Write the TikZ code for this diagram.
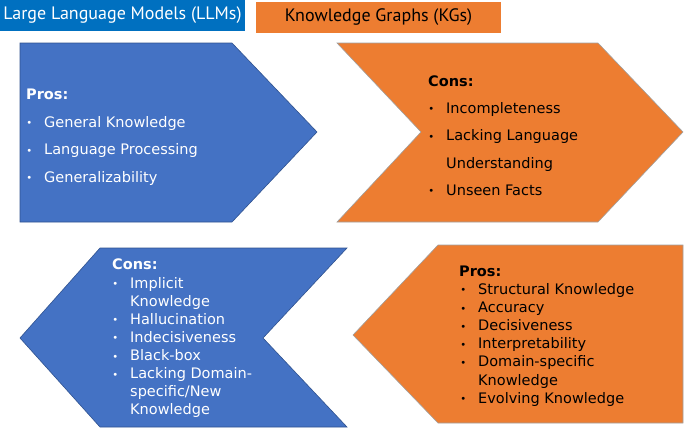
\documentclass[tikz,border=0pt]{standalone}
\usepackage{fontspec}
\setmainfont{DejaVu Sans}
\newfontfamily\titlefont{PT Sans}
\definecolor{tblue}{HTML}{0070C0}
\definecolor{sblue}{HTML}{4472C4}
\definecolor{sblueline}{HTML}{2F528F}
\definecolor{sorange}{HTML}{ED7D31}
\definecolor{soline}{HTML}{A0A0A0}
\newcommand{\bul}{\llap{\raisebox{0.5pt}{\fontsize{10}{10}\selectfont •}\hspace{12pt}}}
\begin{document}
\begin{tikzpicture}[x=1pt,y=-1pt,
  titlebox/.style={inner sep=0pt, minimum width=245pt, minimum height=31pt, font=\titlefont\fontsize{18}{20}\selectfont},
  blueshape/.style={fill=sblue, draw=sblueline, line width=0.6pt, line join=miter},
  orangeshape/.style={fill=sorange, draw=soline, line width=0.6pt, line join=miter},
  txt/.style={anchor=base west, inner sep=0pt, font=\fontsize{14.5}{16}\selectfont},
  wtxt/.style={txt, text=white},
  btxt/.style={txt, text=black},
  hd/.style={font=\bfseries\fontsize{14.5}{16}\selectfont}
]
\useasboundingbox (0,0) rectangle (685,429);

% titles
\node[titlebox, fill=tblue, text=white] (t1) at (122.5,15.5) {Large Language Models (LLMs)};
\node[titlebox, fill=sorange, text=black] (t2) at (378.5,17) {Knowledge Graphs (KGs)};

% shapes
\path[blueshape] (20,43) -- (232,43) -- (317,132) -- (232,222) -- (20,222) -- cycle;
\path[orangeshape] (337,43) -- (598,43) -- (683,132) -- (598,222) -- (337,222) -- (421,132) -- cycle;
\path[blueshape] (100,248) -- (347,248) -- (263,338) -- (347,427) -- (100,427) -- (20,338) -- cycle;
\path[orangeshape] (438,245) -- (683,245) -- (683,423) -- (438,423) -- (353,335) -- cycle;

% shape 1 text
\node[wtxt, hd] (a0) at (26,99) {Pros:};
\node[wtxt] (a1) at (44,127) {\bul General Knowledge};
\node[wtxt] (a2) at (44,154.5) {\bul Language Processing};
\node[wtxt] (a3) at (44,182) {\bul Generalizability};

% shape 2 text
\node[btxt, hd] (b0) at (428,86.5) {Cons:};
\node[btxt] (b1) at (446,113) {\bul Incompleteness};
\node[btxt] (b2) at (446,140.5) {\bul Lacking Language};
\node[btxt] (b3) at (446,168) {Understanding};
\node[btxt] (b4) at (446,195) {\bul Unseen Facts};

% shape 3 text
\node[wtxt, hd] (c0) at (112,269.5) {Cons:};
\node[wtxt] (c1) at (130,288) {\bul Implicit};
\node[wtxt] (c2) at (130,306) {Knowledge};
\node[wtxt] (c3) at (130,324) {\bul Hallucination};
\node[wtxt] (c4) at (130,342) {\bul Indecisiveness};
\node[wtxt] (c5) at (130,360.5) {\bul Black-box};
\node[wtxt] (c6) at (130,378.5) {\bul Lacking Domain-};
\node[wtxt] (c7) at (130,396.5) {specific/New};
\node[wtxt] (c8) at (130,414.5) {Knowledge};

% shape 4 text
\node[btxt, hd] (d0) at (459,276) {Pros:};
\node[btxt] (d1) at (478,294) {\bul Structural Knowledge};
\node[btxt] (d2) at (478,312.5) {\bul Accuracy};
\node[btxt] (d3) at (478,330.5) {\bul Decisiveness};
\node[btxt] (d4) at (478,348.5) {\bul Interpretability};
\node[btxt] (d5) at (478,366.5) {\bul Domain-specific};
\node[btxt] (d6) at (478,385) {Knowledge};
\node[btxt] (d7) at (478,403) {\bul Evolving Knowledge};
\end{tikzpicture}
\end{document}
